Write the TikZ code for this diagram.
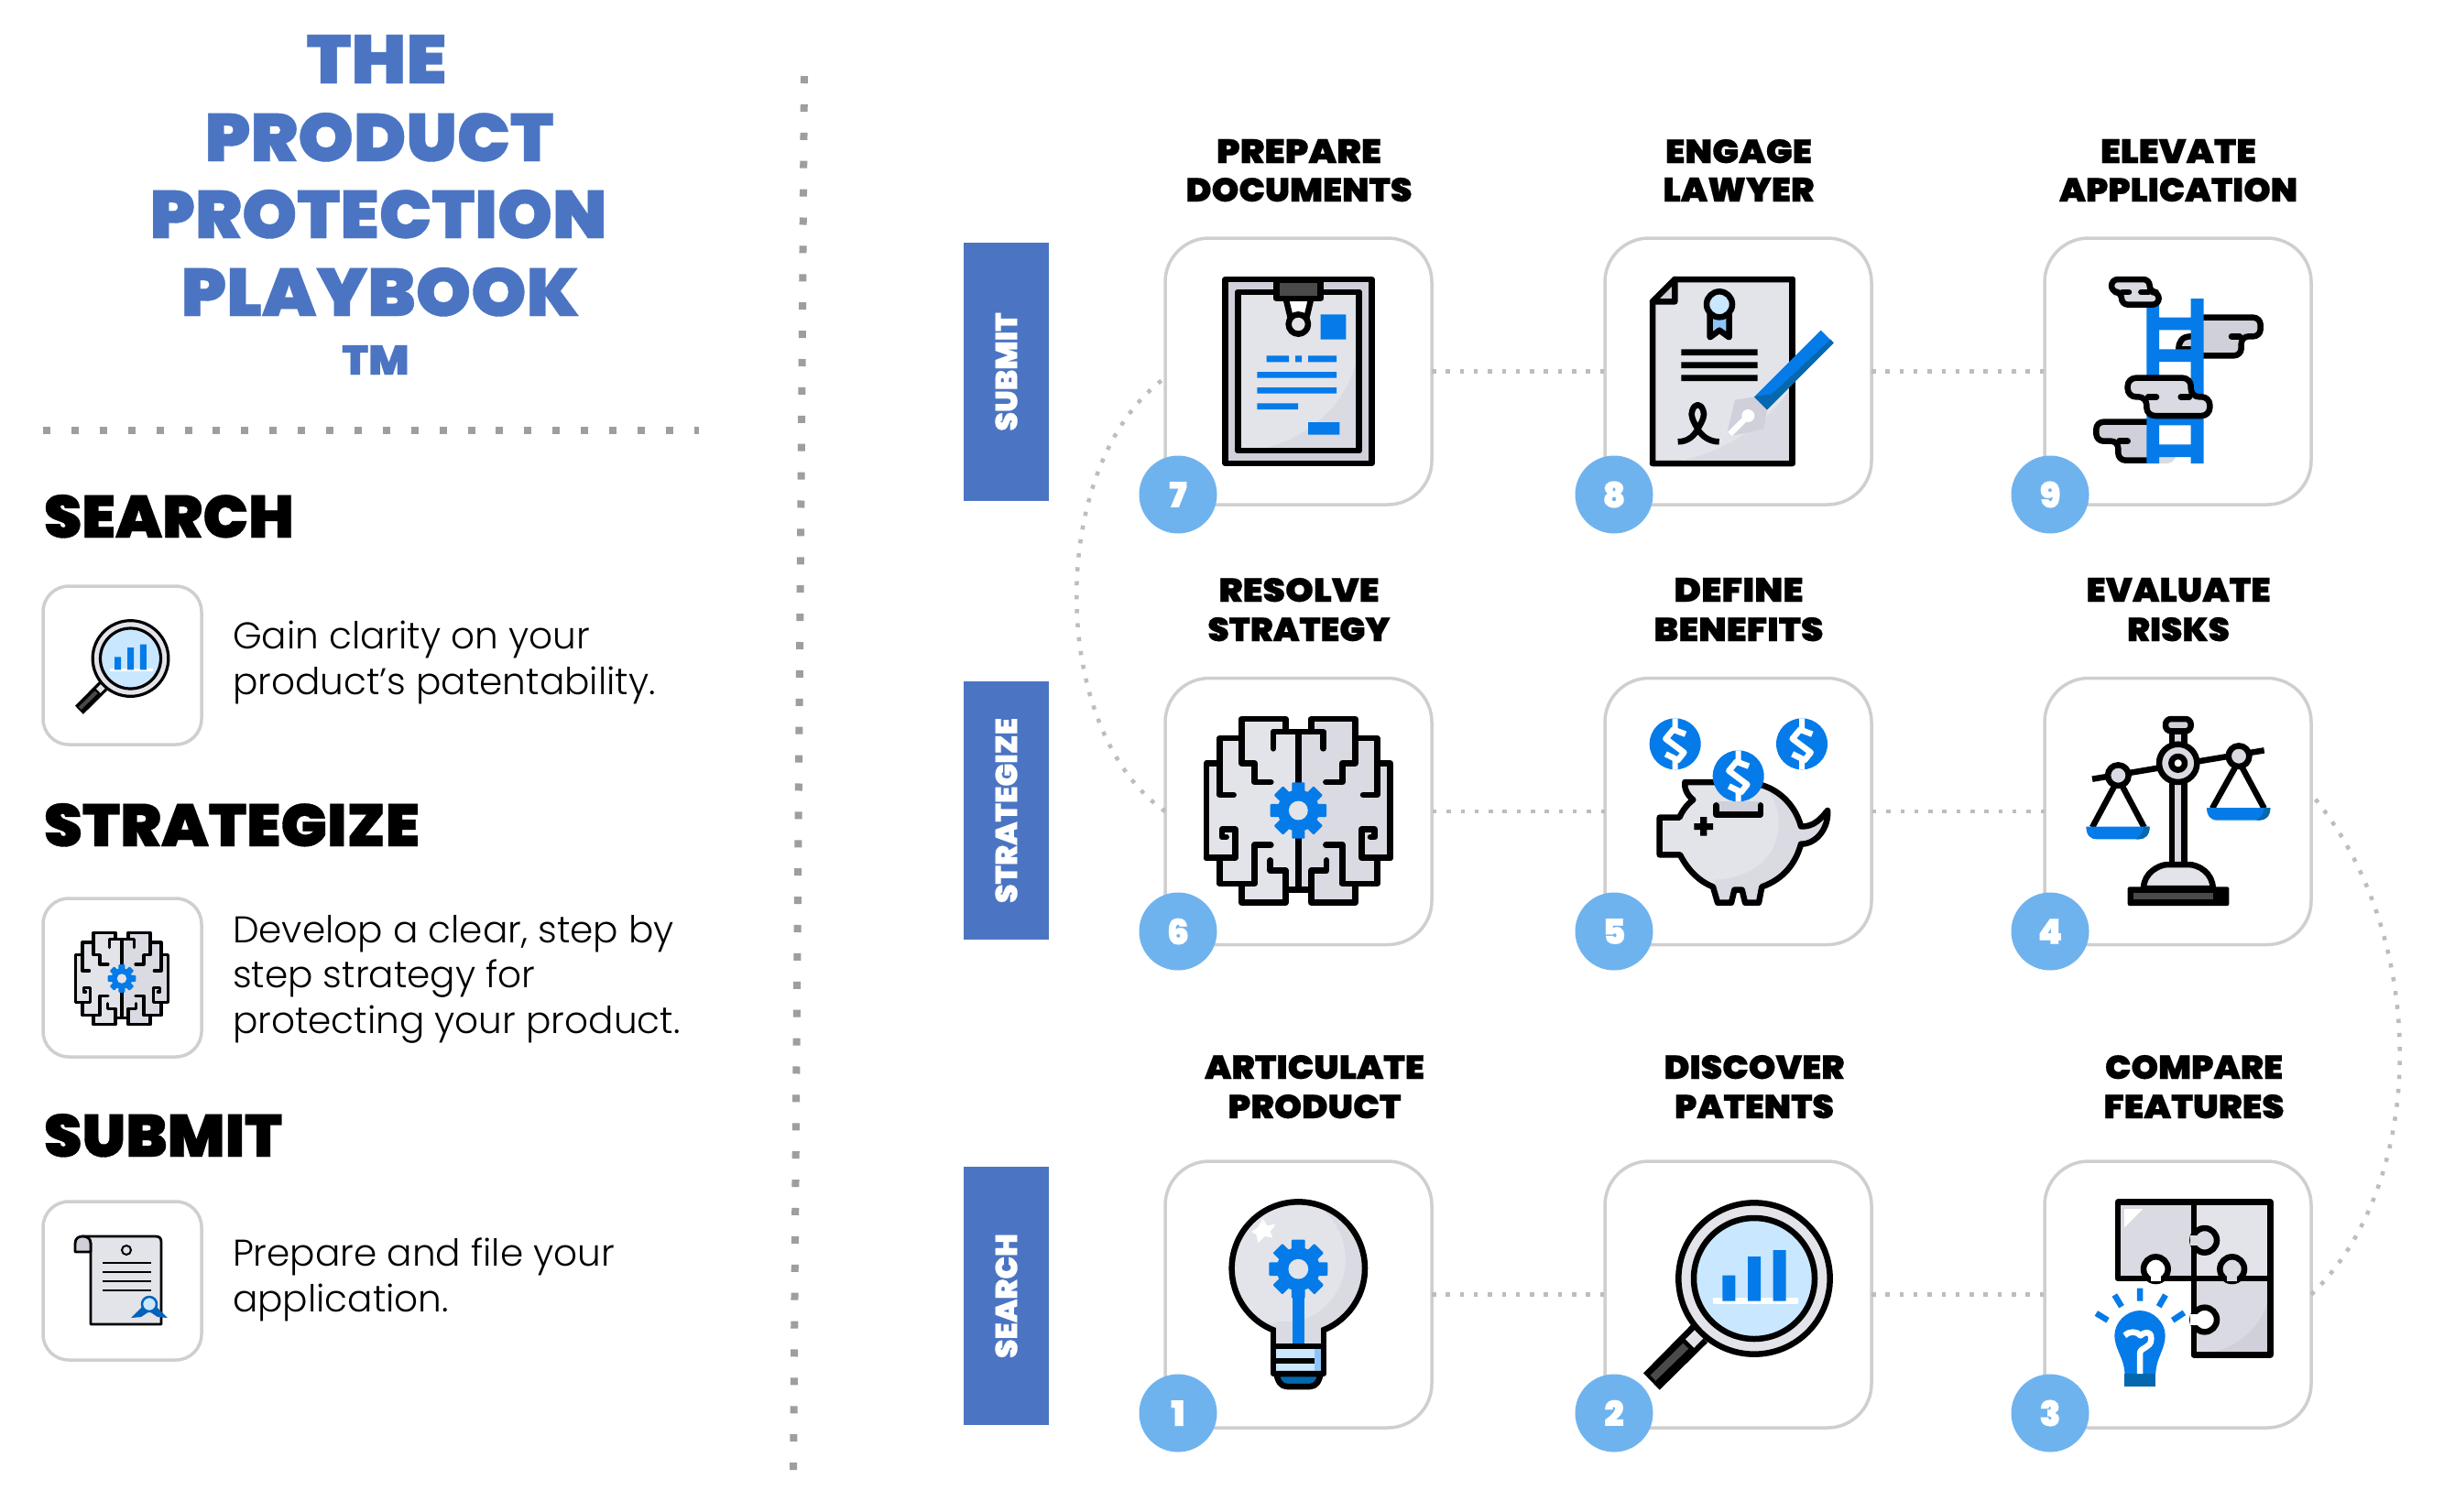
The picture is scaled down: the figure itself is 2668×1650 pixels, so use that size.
\documentclass[tikz,border=0pt]{standalone}
\usepackage{graphicx}
\usepackage{fontspec}
\newfontfamily\blk{Poppins Black}[FakeBold=0.5]
\newfontfamily\lgt{Poppins Light}
\definecolor{pap}{HTML}{E3E4EA}
\definecolor{shd}{HTML}{D9DAE2}
\definecolor{mid}{HTML}{CFD0D9}
\definecolor{blu}{HTML}{047BE8}
\definecolor{dbl}{HTML}{0568AE}
\definecolor{lbl}{HTML}{C9E7FF}
\definecolor{mbl}{HTML}{8CC5F5}
\definecolor{dgr}{HTML}{4A4A4A}
\definecolor{ttl}{HTML}{4B75C3}
\definecolor{badge}{HTML}{6FB3EE}
\definecolor{edge}{HTML}{CFCFCF}
\definecolor{dotA}{HTML}{9E9E9E}
\definecolor{dotB}{HTML}{BDBDBD}
\def\olw{6.5pt}
\def\slw{6.5pt}
\tikzset{
 ol/.style={draw=black,line width=\olw,line join=round,line cap=round},
 wl/.style={draw=white,line width=\olw,line join=round},
 card/.style={draw=edge,line width=3.5pt,fill=white,rounded corners=48pt,minimum size=291pt,inner sep=0pt,outer sep=0pt},
 lcard/.style={draw=edge,line width=3.5pt,fill=white,rounded corners=28pt,minimum size=173pt,inner sep=0pt,outer sep=0pt},
 numb/.style={circle,fill=badge,minimum size=85pt,inner sep=0pt,text=white,font=\blk\fontsize{38}{38}\selectfont},
 tabbox/.style={fill=ttl,minimum width=282pt,minimum height=93pt,inner sep=0pt,text=white,rotate=90},
 fitlab/.style={anchor=base,inner sep=0pt,outer sep=0pt},
 fitleft/.style={anchor=base west,inner sep=0pt,outer sep=0pt},
 bigdots/.style={draw=dotA,line width=8pt,dash pattern=on 8pt off 22.9pt},
 finedots/.style={draw=dotB,line width=4.5pt,dash pattern=on 4.5pt off 10.8pt},
 body/.style={anchor=north west,inner sep=0pt,outer sep=0pt,align=left,font=\lgt\fontsize{40.6}{49.7}\selectfont},
 ic/.style n args={3}{shift={(#1,#2)},scale=#3}
}
\newcommand{\fitt}[3]{\resizebox{#1pt}{#2pt}{\blk #3}}
\newcommand{\gearat}[4]{%
 \fill[blu] (#1,#2) circle ({0.74*#3});
 \foreach \a in {0,45,...,315}{\fill[blu,shift={(#1,#2)},rotate=\a,rounded corners=1pt] ({-0.23*#3},{-#3}) rectangle ({0.23*#3},0);}
 \fill[#4] (#1,#2) circle ({0.34*#3});
}
\newcommand{\iconclip}{%
 \filldraw[ol,fill=mid] (323,195) rectangle (802,798);
 \filldraw[ol,fill=pap] (365,237) rectangle (760,756);
 \fill[shd] (750,470) .. controls (720,600) and (600,710) .. (460,746) -- (750,746) -- cycle;
 \draw[ol] (365,237) rectangle (760,756);
 \fill[white] (530,262) -- (595,262) -- (580,330) -- (545,330) -- cycle;
 \draw[ol] (522,262) -- (537,325) (603,262) -- (588,325);
 \filldraw[ol,fill=pap] (562,342) circle (32);
 \filldraw[ol,fill=dgr] (490,197) rectangle (635,258);
 \fill[blu] (635,310) rectangle (718,392) (458,445) rectangle (531,466) (552,445) rectangle (573,466) (594,445) rectangle (687,466) (427,498) rectangle (687,518) (427,549) rectangle (687,569) (427,601) rectangle (561,621) (594,663) rectangle (697,704);
}
\newcommand{\icondoc}{%
 \filldraw[ol,fill=pap] (325,195) -- (710,195) -- (710,798) -- (252,798) -- (252,268) -- cycle;
 \fill[shd] (345,788) .. controls (450,770) and (600,700) .. (700,560) -- (700,788) -- cycle;
 \draw[ol] (710,195) -- (710,798) -- (252,798);
 \filldraw[ol,fill=mid] (325,195) -- (325,268) -- (252,268) -- cycle;
 \filldraw[ol,fill=mbl] (440,300) -- (440,385) -- (471,362) -- (503,385) -- (503,300) -- cycle;
 \filldraw[ol,fill=lbl] (471,277) circle (42);
 \fill (346,424) rectangle (596,444) (346,466) rectangle (596,486) (346,508) rectangle (596,528);
 \draw[ol,line cap=butt] (335,727) .. controls (370,727) and (390,705) .. (400,685) .. controls (415,660) and (425,640) .. (418,625) .. controls (410,600) and (390,600) .. (382,625) .. controls (375,640) and (385,660) .. (400,685) .. controls (410,705) and (435,727) .. (470,727);
 \fill[mid] (585,580) -- (627,622) -- (615,685) -- (510,708) -- (497,695) -- (522,590) -- cycle;
 \draw[wl,line cap=butt] (505,702) -- (565,642);
 \fill[white] (565,642) circle (21);
 \fill[blu] (803,362) -- (845,403) -- (627,622) -- (585,580) -- cycle;
 \fill[dbl] (835,392) -- (845,403) -- (627,622) -- (585,580) -- (610,575) .. controls (640,575) and (650,565) .. (665,550) -- cycle;
}
\newcommand{\iconladder}{%
 \filldraw[ol,fill=mid,rounded corners=8pt] (610,320) -- (803,320) -- (803,382) -- (740,382) -- (740,445) -- (610,445);
 \draw[ol] (708,382) -- (735,382);
 \filldraw[ol,fill=mid] (575,382) .. controls (545,382) and (535,400) .. (535,424) -- (575,424);
 \filldraw[ol,fill=mid,rounded corners=8pt] (440,662) -- (265,662) -- (265,725) -- (337,725) -- (337,788) -- (440,788);
 \draw[ol] (340,725) -- (368,725);
 \fill[shd] (471,777) -- (525,777) .. controls (520,790) and (510,798) .. (495,798) -- (471,798) -- cycle;
 \fill[blu] (430,258) rectangle (471,798) (575,258) rectangle (617,798) (471,320) rectangle (575,361) (471,424) rectangle (575,465) (471,632) rectangle (575,673) (471,736) rectangle (575,777);
 \filldraw[ol,fill=shd,rounded corners=7pt] (315,195) -- (440,195) -- (440,237) -- (470,237) -- (470,278) -- (348,278) -- (348,237) -- (315,237) -- cycle;
 \draw[ol] (350,237) -- (372,237) (412,237) -- (436,237);
 \filldraw[ol,fill=shd,rounded corners=9pt] (368,518) -- (575,518) -- (575,580) -- (637,580) -- (637,642) -- (430,642) -- (430,580) -- (368,580) -- cycle;
 \draw[ol] (435,580) -- (462,580) (542,580) -- (570,580);
}
\newcommand{\brainhalf}[1]{%
 \filldraw[ol,fill=#1] (520,135) -- (376,135) -- (376,198) -- (304,198) -- (304,280) -- (261,280) -- (261,590) -- (304,590) -- (304,675) -- (376,675) -- (376,737) -- (520,737) -- (520,695) -- (562,695) -- (562,177) -- (520,177) -- cycle;
 \draw[ol] (480,232) -- (480,177) -- (562,177);
 \draw[ol] (376,198) -- (376,280) -- (418,280) -- (418,342) -- (472,342);
 \draw[ol] (304,280) -- (304,384) -- (350,384);
 \draw[ol] (261,590) -- (355,590) -- (355,497) -- (312,497) -- (312,522) -- (326,522);
 \draw[ol] (472,548) -- (418,548) -- (418,675) -- (376,675);
 \draw[ol] (470,598) -- (470,632) -- (520,632) -- (520,695);
}
\newcommand{\iconbrain}{%
 \brainhalf{pap}
 \begin{scope}[shift={(1124,0)},xscale=-1]\brainhalf{shd}\end{scope}
 \gearat{562}{435}{92}{pap}
}
\newcommand{\coinat}[2]{%
 \begin{scope}[shift={(#1,#2)}]
 \fill[blu] (0,0) circle (84);
 \fill[white] (-9,-84) rectangle (9,-42) (-9,42) rectangle (9,84);
 \draw[wl,line cap=butt] (34,-32) -- (-6,-47) -- (-31,-17) -- (29,28) -- (9,53) -- (-31,33);
 \end{scope}
}
\newcommand{\iconpig}{%
 \def\pigpath{(358,342) -- (470,342) -- (610,352) .. controls (670,370) and (720,420) .. (738,487) .. controls (780,490) and (805,460) .. (825,435) .. controls (830,490) and (790,545) .. (738,545) .. controls (720,610) and (680,660) .. (610,685) -- (600,737) -- (555,737) -- (545,695) -- (520,695) -- (510,737) -- (465,737) -- (450,685) .. controls (400,665) and (365,625) .. (342,580) -- (275,580) -- (275,458) -- (340,458) .. controls (350,435) and (365,415) .. (385,400) .. controls (365,385) and (355,360) .. (358,342) -- cycle}
 \fill[pap] \pigpath;
 \fill[shd] (620,358) .. controls (700,440) and (690,650) .. (455,662) -- (465,730) -- (510,730) -- (520,690) -- (545,690) -- (555,730) -- (600,730) -- (610,680) .. controls (680,655) and (720,610) .. (738,545) .. controls (790,545) and (825,490) .. (822,445) .. controls (805,460) and (780,490) .. (738,487) .. controls (720,420) and (670,370) .. cycle;
 \draw[ol] \pigpath;
 \fill[mid] (460,405) rectangle (606,448);
 \draw[ol] (460,418) -- (460,448) -- (606,448) -- (606,418);
 \fill (408,456) rectangle (430,518) (388,477) rectangle (450,498);
 \coinat{326}{217}\coinat{741}{217}\coinat{533}{322}
}
\newcommand{\panat}[2]{%
 \begin{scope}[shift={(#1,#2)}]
 \fill[blu] (232,488) -- (440,488) .. controls (440,515) and (425,529) .. (405,529) -- (267,529) .. controls (245,529) and (232,515) .. (232,488) -- cycle;
 \fill[dbl] (420,488) -- (440,488) .. controls (440,515) and (425,529) .. (405,529) -- (395,529) .. controls (410,520) and (420,505) .. (420,488) -- cycle;
 \end{scope}
}
\newcommand{\iconscale}{%
 \draw[ol,line cap=butt] (252,332) -- (815,238);
 \draw[ol,line cap=butt] (330,345) -- (252,490) (345,345) -- (422,490) (725,285) -- (645,428) (738,285) -- (815,428);
 \filldraw[ol,fill=shd] (337,320) circle (34) (732,257) circle (34);
 \panat{0}{0}\panat{395}{-62}
 \filldraw[ol,fill=shd] (513,175) rectangle (553,225);
 \filldraw[ol,fill=mid,rounded corners=6pt] (492,135) rectangle (575,175);
 \filldraw[ol,fill=shd] (513,340) rectangle (553,612);
 \filldraw[ol,fill=shd] (533,280) circle (62);
 \filldraw[ol,fill=white] (533,280) circle (22);
 \filldraw[ol,fill=pap] (420,690) .. controls (420,640) and (470,612) .. (500,612) -- (567,612) .. controls (600,612) and (647,640) .. (647,690) -- cycle;
 \fill[black,rounded corners=2pt] (368,685) rectangle (700,747);
 \fill[dgr] (388,706) rectangle (648,727);
}
\newcommand{\iconbulb}{%
 \fill[pap] (562,345) circle (218);
 \begin{scope}\clip (562,345) circle (218);\fill[shd,even odd rule] (340,100) rectangle (800,600) (505,315) circle (212);\end{scope}
 \draw[ol] (562,345) circle (218);
 \fill[shd] (490,520) rectangle (635,600);
 \draw[ol,line cap=butt] (480,548) -- (480,600) (645,548) -- (645,600);
 \fill[blu] (542,345) rectangle (583,600);
 \gearat{562}{347}{96}{pap}
 \fill[white] (445,182) -- (460,205) -- (488,200) -- (470,225) -- (478,245) -- (452,240) -- (430,262) -- (425,235) -- (408,225) -- (430,210) -- cycle;
 \filldraw[ol,fill=lbl] (480,600) rectangle (645,690);
 \fill[mbl] (615,610) rectangle (635,682);
 \fill (480,638) rectangle (615,658);
 \filldraw[ol,fill=dbl] (490,690) -- (635,690) .. controls (630,715) and (620,732) .. (600,732) -- (525,732) .. controls (505,732) and (495,715) .. (490,690) -- cycle;
}
\newcommand{\iconmag}{%
 \fill[black] (378,530) -- (222,688) -- (275,743) -- (432,588) -- cycle;
 \fill[dgr] (352,590) -- (245,695) -- (262,713) -- (370,608) -- cycle;
 \fill[pap] (397,540) -- (425,567) -- (388,605) -- (360,577) -- cycle;
 \filldraw[ol,fill=pap] (585,378) circle (248);
 \filldraw[ol,fill=lbl] (585,378) circle (198);
 \fill[white] (450,441) rectangle (730,462);
 \fill[blu] (481,368) rectangle (523,452) (564,306) rectangle (606,452) (647,285) rectangle (689,452);
}
\newcommand{\iconpuzzle}{%
 \fill[shd] (336,128) rectangle (585,378);
 \fill[pap] (585,128) rectangle (835,378);
 \fill[shd] (585,378) rectangle (835,628);
 \fill[mid] (825,460) .. controls (800,540) and (730,600) .. (650,618) -- (825,618) -- cycle;
 \fill[white] (357,150) -- (418,150) -- (357,212) -- cycle;
 \draw[ol,line cap=butt] (585,128) -- (336,128) -- (336,378) -- (585,378) (585,378) -- (835,378);
 \draw[ol] (585,128) -- (835,128) -- (835,628) -- (585,628) -- (585,128);
 \draw[ol] (585,378) -- (585,628);
 \filldraw[ol,fill=shd] (620,253) circle (40);
 \fill[shd] (573,236) rectangle (600,270);
 \filldraw[ol,fill=white] (460,347) circle (40);
 \fill[white] (443,368) rectangle (477,388);
 \filldraw[ol,fill=shd] (710,347) circle (40);
 \fill[shd] (693,368) rectangle (727,388);
 \filldraw[ol,fill=white] (620,513) circle (40);
 \fill[white] (573,496) rectangle (600,530);
 \draw[blu,line width=\olw] (408,410) -- (408,452) (325,432) -- (348,470) (492,432) -- (470,470) (265,492) -- (303,515) (553,490) -- (515,515);
 \fill[blu] (325,565) .. controls (325,520) and (365,483) .. (408,483) .. controls (450,483) and (491,520) .. (491,565) .. controls (491,610) and (460,640) .. (460,690) -- (358,690) .. controls (358,640) and (325,610) .. (325,565) -- cycle;
 \fill[dbl] (358,690) rectangle (460,732);
 \draw[wl,line cap=butt] (408,690) -- (408,625) .. controls (408,600) and (445,610) .. (445,575) .. controls (445,545) and (420,555) .. (410,565) .. controls (400,550) and (370,550) .. (358,565);
}
\begin{document}
\begin{tikzpicture}[x=1pt,y=-1pt]
\useasboundingbox (0,0) rectangle (2668,1650);
\fill[white] (0,0) rectangle (2668,1650);
% title
\node[fitlab,text=ttl] (t1) at (411,91) {\fitt{153}{53}{THE}};
\node[fitlab,text=ttl] (t2) at (414,176) {\fitt{381}{53}{PRODUCT}};
\node[fitlab,text=ttl] (t3) at (413,260) {\fitt{499}{53}{PROTECTION}};
\node[fitlab,text=ttl] (t4) at (415,345) {\fitt{435}{53}{PLAYBOOK}};
\node[fitlab,text=ttl] (t5) at (410,409) {\fitt{73}{32}{TM}};
% dotted separators
\coordinate (ha) at (47,470); \coordinate (hb) at (763,470);
\draw[bigdots] (ha) -- (hb);
\coordinate (va) at (878,83); \coordinate (vb) at (866,1606);
\draw[bigdots] (va) -- (vb);
% left headings
\node[fitleft] (h1) at (48,587) {\fitt{273}{47}{SEARCH}};
\node[fitleft] (h2) at (48,924) {\fitt{410}{47}{STRATEGIZE}};
\node[fitleft] (h3) at (48,1263) {\fitt{260}{47}{SUBMIT}};
% left cards
\node[lcard] (l1) at (133.5,726.5) {};
\node[lcard] (l2) at (133.5,1067.5) {};
\node[lcard] (l3) at (133.5,1398.5) {};
\begin{scope}[ic={45}{656}{0.16667}]\def\olw{3.2pt}\iconmag\end{scope}
\begin{scope}[ic={39.3}{996}{0.16667}]\def\olw{3.2pt}\iconbrain\end{scope}
% scroll icon
\filldraw[draw=black,line width=2.8pt,fill=pap,line join=round] (99,1446) -- (99,1358) .. controls (99,1352) and (94,1350) .. (90,1350) -- (170,1350) .. controls (174,1350) and (176,1352) .. (176,1356) -- (176,1446) -- cycle;
\filldraw[draw=black,line width=2.8pt,fill=mid,line join=round] (99,1367) -- (82,1367) -- (82,1358) .. controls (82,1352) and (86,1350) .. (90,1350) .. controls (95,1350) and (99,1352) .. (99,1358) -- cycle;
\draw[line width=2pt] (138,1365) circle (5);
\draw[line width=2.5pt] (112,1379) -- (165,1379) (112,1389) -- (165,1389) (112,1399) -- (165,1399) (112,1409) -- (165,1409);
\fill[blu!80!black] (143,1439) -- (157,1425) -- (169,1425) -- (183,1439) -- (172,1438) -- (163,1432) -- (154,1438) -- cycle;
\filldraw[draw=blu!80!black,line width=2.5pt,fill=lbl] (163,1424) circle (8);
% left text
\node[body] (x1) at (254,678) {Gain clarity on your\\product’s patentability.};
\node[body] (x2) at (254,999) {Develop a clear, step by\\step strategy for\\protecting your product.};
\node[body] (x3) at (254,1352) {Prepare and file your\\application.};
% side tabs
\node[tabbox] (s1) at (1098.5,406) {\fitt{129}{24}{SUBMIT}};
\node[tabbox] (s2) at (1098.5,885) {\fitt{202}{24}{STRATEGIZE}};
\node[tabbox] (s3) at (1098.5,1415) {\fitt{136}{24}{SEARCH}};
% cards
\node[card] (c7) at (1417.5,405.5) {};
\node[card] (c8) at (1897.5,405.5) {};
\node[card] (c9) at (2377.5,405.5) {};
\node[card] (c6) at (1417.5,886) {};
\node[card] (c5) at (1897.5,886) {};
\node[card] (c4) at (2377.5,886) {};
\node[card] (c1) at (1417.5,1413.5) {};
\node[card] (c2) at (1897.5,1413.5) {};
\node[card] (c3) at (2377.5,1413.5) {};
% connectors
\draw[finedots] (c1.east) -- (c2.west);
\draw[finedots] (c2.east) -- (c3.west);
\draw[finedots] (c4.west) -- (c5.east);
\draw[finedots] (c5.west) -- (c6.east);
\draw[finedots] (c7.east) -- (c8.west);
\draw[finedots] (c8.east) -- (c9.west);
\draw[finedots] (c3.east) .. controls (2652,1290) and (2652,1020) .. ([yshift=19pt]c4.east);
\draw[finedots] (c6.west) .. controls (1143,796) and (1143,506) .. ([yshift=-7pt]c7.west);
% icons
\begin{scope}[ic={1230}{240}{0.33333}]\iconclip\end{scope}
\begin{scope}[ic={1720}{240}{0.33333}]\icondoc\end{scope}
\begin{scope}[ic={2200}{240}{0.33333}]\iconladder\end{scope}
\begin{scope}[ic={1230}{740}{0.33333}]\iconbrain\end{scope}
\begin{scope}[ic={1720}{740}{0.33333}]\iconpig\end{scope}
\begin{scope}[ic={2200}{740}{0.33333}]\iconscale\end{scope}
\begin{scope}[ic={1230}{1270}{0.33333}]\iconbulb\end{scope}
\begin{scope}[ic={1720}{1270}{0.33333}]\iconmag\end{scope}
\begin{scope}[ic={2200}{1270}{0.33333}]\iconpuzzle\end{scope}
% badges
\node[numb] (b7) at (1286,540) {7};
\node[numb] (b8) at (1762,540) {8};
\node[numb] (b9) at (2238,540) {9};
\node[numb] (b6) at (1286,1017) {6};
\node[numb] (b5) at (1762,1017) {5};
\node[numb] (b4) at (2238,1017) {4};
\node[numb] (b1) at (1286,1543) {1};
\node[numb] (b2) at (1762,1543) {2};
\node[numb] (b3) at (2238,1543) {3};
% card labels
\node[fitlab] (a71) at (1418,178) {\fitt{180}{26}{PREPARE}};
\node[fitlab] (a72) at (1418,220) {\fitt{247}{26}{DOCUMENTS}};
\node[fitlab] (a81) at (1898,178) {\fitt{160}{26}{ENGAGE}};
\node[fitlab] (a82) at (1898,220) {\fitt{165}{26}{LAWYER}};
\node[fitlab] (a91) at (2378,178) {\fitt{170}{26}{ELEVATE}};
\node[fitlab] (a92) at (2378,220) {\fitt{260}{26}{APPLICATION}};
\node[fitlab] (a61) at (1418,657) {\fitt{175}{26}{RESOLVE}};
\node[fitlab] (a62) at (1418,700) {\fitt{199}{26}{STRATEGY}};
\node[fitlab] (a51) at (1898,657) {\fitt{141}{26}{DEFINE}};
\node[fitlab] (a52) at (1898,700) {\fitt{185}{26}{BENEFITS}};
\node[fitlab] (a41) at (2378,657) {\fitt{201}{26}{EVALUATE}};
\node[fitlab] (a42) at (2378,700) {\fitt{112}{26}{RISKS}};
\node[fitlab] (a11) at (1435,1178) {\fitt{240}{26}{ARTICULATE}};
\node[fitlab] (a12) at (1435,1221) {\fitt{189}{26}{PRODUCT}};
\node[fitlab] (a21) at (1915,1178) {\fitt{197}{26}{DISCOVER}};
\node[fitlab] (a22) at (1915,1221) {\fitt{174}{26}{PATENTS}};
\node[fitlab] (a31) at (2395,1178) {\fitt{194}{26}{COMPARE}};
\node[fitlab] (a32) at (2395,1221) {\fitt{197}{26}{FEATURES}};
\end{tikzpicture}
\end{document}
